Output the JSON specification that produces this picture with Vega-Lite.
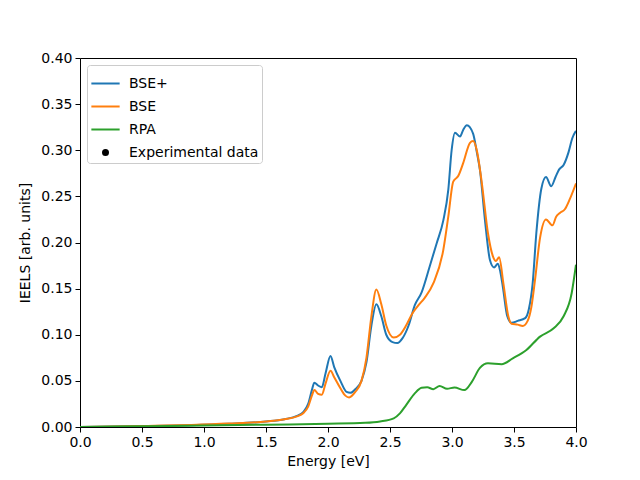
{
  "$schema": "https://vega.github.io/schema/vega-lite/v6.json",
  "width": 496,
  "height": 369,
  "autosize": {"type": "none"},
  "padding": {"left": 80, "top": 58, "right": 64, "bottom": 53},
  "background": "white",
  "config": {
    "font": "DejaVu Sans",
    "view": {"stroke": "black", "strokeWidth": 1},
    "axis": {
      "grid": false,
      "domain": false,
      "tickColor": "black",
      "tickSize": 5,
      "tickWidth": 1,
      "labelFlush": false,
      "labelFont": "DejaVu Sans",
      "labelFontSize": 14,
      "labelColor": "black",
      "labelPadding": 3,
      "titleFont": "DejaVu Sans",
      "titleFontSize": 14,
      "titleFontWeight": "normal",
      "titleColor": "black"
    }
  },
  "data": {
    "values": [
      {"E": 0, "I": 0, "s": "BSE+"},
      {"E": 0.3, "I": 0.0005, "s": "BSE+"},
      {"E": 0.6, "I": 0.0012, "s": "BSE+"},
      {"E": 0.9, "I": 0.002, "s": "BSE+"},
      {"E": 1.2, "I": 0.0035, "s": "BSE+"},
      {"E": 1.5, "I": 0.006, "s": "BSE+"},
      {"E": 1.65, "I": 0.0085, "s": "BSE+"},
      {"E": 1.75, "I": 0.012, "s": "BSE+"},
      {"E": 1.8, "I": 0.016, "s": "BSE+"},
      {"E": 1.84, "I": 0.025, "s": "BSE+"},
      {"E": 1.87, "I": 0.04, "s": "BSE+"},
      {"E": 1.89, "I": 0.048, "s": "BSE+"},
      {"E": 1.92, "I": 0.045, "s": "BSE+"},
      {"E": 1.95, "I": 0.043, "s": "BSE+"},
      {"E": 1.98, "I": 0.058, "s": "BSE+"},
      {"E": 2.02, "I": 0.077, "s": "BSE+"},
      {"E": 2.05, "I": 0.065, "s": "BSE+"},
      {"E": 2.1, "I": 0.05, "s": "BSE+"},
      {"E": 2.15, "I": 0.038, "s": "BSE+"},
      {"E": 2.18, "I": 0.037, "s": "BSE+"},
      {"E": 2.22, "I": 0.041, "s": "BSE+"},
      {"E": 2.27, "I": 0.05, "s": "BSE+"},
      {"E": 2.31, "I": 0.07, "s": "BSE+"},
      {"E": 2.35, "I": 0.11, "s": "BSE+"},
      {"E": 2.39, "I": 0.133, "s": "BSE+"},
      {"E": 2.43, "I": 0.12, "s": "BSE+"},
      {"E": 2.47, "I": 0.1, "s": "BSE+"},
      {"E": 2.52, "I": 0.092, "s": "BSE+"},
      {"E": 2.56, "I": 0.091, "s": "BSE+"},
      {"E": 2.6, "I": 0.096, "s": "BSE+"},
      {"E": 2.65, "I": 0.11, "s": "BSE+"},
      {"E": 2.7, "I": 0.132, "s": "BSE+"},
      {"E": 2.755, "I": 0.146, "s": "BSE+"},
      {"E": 2.82, "I": 0.174, "s": "BSE+"},
      {"E": 2.876, "I": 0.199, "s": "BSE+"},
      {"E": 2.93, "I": 0.224, "s": "BSE+"},
      {"E": 2.97, "I": 0.257, "s": "BSE+"},
      {"E": 2.997, "I": 0.3, "s": "BSE+"},
      {"E": 3.024, "I": 0.319, "s": "BSE+"},
      {"E": 3.065, "I": 0.315, "s": "BSE+"},
      {"E": 3.09, "I": 0.322, "s": "BSE+"},
      {"E": 3.12, "I": 0.327, "s": "BSE+"},
      {"E": 3.17, "I": 0.318, "s": "BSE+"},
      {"E": 3.2, "I": 0.298, "s": "BSE+"},
      {"E": 3.226, "I": 0.278, "s": "BSE+"},
      {"E": 3.266, "I": 0.224, "s": "BSE+"},
      {"E": 3.306, "I": 0.181, "s": "BSE+"},
      {"E": 3.339, "I": 0.173, "s": "BSE+"},
      {"E": 3.37, "I": 0.177, "s": "BSE+"},
      {"E": 3.39, "I": 0.168, "s": "BSE+"},
      {"E": 3.41, "I": 0.152, "s": "BSE+"},
      {"E": 3.446, "I": 0.12, "s": "BSE+"},
      {"E": 3.48, "I": 0.113, "s": "BSE+"},
      {"E": 3.53, "I": 0.115, "s": "BSE+"},
      {"E": 3.59, "I": 0.118, "s": "BSE+"},
      {"E": 3.62, "I": 0.128, "s": "BSE+"},
      {"E": 3.65, "I": 0.155, "s": "BSE+"},
      {"E": 3.68, "I": 0.21, "s": "BSE+"},
      {"E": 3.72, "I": 0.258, "s": "BSE+"},
      {"E": 3.758, "I": 0.271, "s": "BSE+"},
      {"E": 3.8, "I": 0.261, "s": "BSE+"},
      {"E": 3.835, "I": 0.271, "s": "BSE+"},
      {"E": 3.863, "I": 0.279, "s": "BSE+"},
      {"E": 3.9, "I": 0.284, "s": "BSE+"},
      {"E": 3.94, "I": 0.298, "s": "BSE+"},
      {"E": 3.97, "I": 0.313, "s": "BSE+"},
      {"E": 4.0, "I": 0.321, "s": "BSE+"},

      {"E": 0, "I": 0, "s": "BSE"},
      {"E": 0.3, "I": 0.0005, "s": "BSE"},
      {"E": 0.6, "I": 0.0013, "s": "BSE"},
      {"E": 0.9, "I": 0.0022, "s": "BSE"},
      {"E": 1.2, "I": 0.0037, "s": "BSE"},
      {"E": 1.5, "I": 0.006, "s": "BSE"},
      {"E": 1.65, "I": 0.0085, "s": "BSE"},
      {"E": 1.75, "I": 0.0115, "s": "BSE"},
      {"E": 1.8, "I": 0.015, "s": "BSE"},
      {"E": 1.84, "I": 0.022, "s": "BSE"},
      {"E": 1.87, "I": 0.034, "s": "BSE"},
      {"E": 1.89, "I": 0.04, "s": "BSE"},
      {"E": 1.92, "I": 0.036, "s": "BSE"},
      {"E": 1.95, "I": 0.035, "s": "BSE"},
      {"E": 1.98, "I": 0.047, "s": "BSE"},
      {"E": 2.02, "I": 0.061, "s": "BSE"},
      {"E": 2.05, "I": 0.054, "s": "BSE"},
      {"E": 2.1, "I": 0.042, "s": "BSE"},
      {"E": 2.14, "I": 0.034, "s": "BSE"},
      {"E": 2.17, "I": 0.032, "s": "BSE"},
      {"E": 2.22, "I": 0.038, "s": "BSE"},
      {"E": 2.27, "I": 0.05, "s": "BSE"},
      {"E": 2.31, "I": 0.075, "s": "BSE"},
      {"E": 2.35, "I": 0.12, "s": "BSE"},
      {"E": 2.39, "I": 0.149, "s": "BSE"},
      {"E": 2.43, "I": 0.133, "s": "BSE"},
      {"E": 2.47, "I": 0.11, "s": "BSE"},
      {"E": 2.53, "I": 0.097, "s": "BSE"},
      {"E": 2.58, "I": 0.1, "s": "BSE"},
      {"E": 2.63, "I": 0.11, "s": "BSE"},
      {"E": 2.68, "I": 0.123, "s": "BSE"},
      {"E": 2.73, "I": 0.132, "s": "BSE"},
      {"E": 2.78, "I": 0.14, "s": "BSE"},
      {"E": 2.85, "I": 0.156, "s": "BSE"},
      {"E": 2.93, "I": 0.192, "s": "BSE"},
      {"E": 2.97, "I": 0.228, "s": "BSE"},
      {"E": 3.01, "I": 0.266, "s": "BSE"},
      {"E": 3.05, "I": 0.272, "s": "BSE"},
      {"E": 3.09, "I": 0.286, "s": "BSE"},
      {"E": 3.145, "I": 0.308, "s": "BSE"},
      {"E": 3.17, "I": 0.31, "s": "BSE"},
      {"E": 3.2, "I": 0.3, "s": "BSE"},
      {"E": 3.24, "I": 0.265, "s": "BSE"},
      {"E": 3.29, "I": 0.21, "s": "BSE"},
      {"E": 3.33, "I": 0.185, "s": "BSE"},
      {"E": 3.355, "I": 0.18, "s": "BSE"},
      {"E": 3.38, "I": 0.184, "s": "BSE"},
      {"E": 3.414, "I": 0.156, "s": "BSE"},
      {"E": 3.454, "I": 0.12, "s": "BSE"},
      {"E": 3.48, "I": 0.112, "s": "BSE"},
      {"E": 3.53, "I": 0.111, "s": "BSE"},
      {"E": 3.57, "I": 0.1095, "s": "BSE"},
      {"E": 3.61, "I": 0.115, "s": "BSE"},
      {"E": 3.64, "I": 0.13, "s": "BSE"},
      {"E": 3.67, "I": 0.16, "s": "BSE"},
      {"E": 3.71, "I": 0.205, "s": "BSE"},
      {"E": 3.758, "I": 0.225, "s": "BSE"},
      {"E": 3.81, "I": 0.2186, "s": "BSE"},
      {"E": 3.84, "I": 0.228, "s": "BSE"},
      {"E": 3.87, "I": 0.232, "s": "BSE"},
      {"E": 3.91, "I": 0.236, "s": "BSE"},
      {"E": 3.95, "I": 0.247, "s": "BSE"},
      {"E": 4.0, "I": 0.264, "s": "BSE"},

      {"E": 0, "I": 0, "s": "RPA"},
      {"E": 0.5, "I": 0.0008, "s": "RPA"},
      {"E": 1.0, "I": 0.0015, "s": "RPA"},
      {"E": 1.5, "I": 0.0025, "s": "RPA"},
      {"E": 2.0, "I": 0.0035, "s": "RPA"},
      {"E": 2.3, "I": 0.0045, "s": "RPA"},
      {"E": 2.42, "I": 0.006, "s": "RPA"},
      {"E": 2.53, "I": 0.0094, "s": "RPA"},
      {"E": 2.58, "I": 0.0148, "s": "RPA"},
      {"E": 2.63, "I": 0.0238, "s": "RPA"},
      {"E": 2.7, "I": 0.0365, "s": "RPA"},
      {"E": 2.755, "I": 0.0425, "s": "RPA"},
      {"E": 2.8, "I": 0.043, "s": "RPA"},
      {"E": 2.85, "I": 0.041, "s": "RPA"},
      {"E": 2.9, "I": 0.0445, "s": "RPA"},
      {"E": 2.96, "I": 0.0415, "s": "RPA"},
      {"E": 3.02, "I": 0.0428, "s": "RPA"},
      {"E": 3.1, "I": 0.04, "s": "RPA"},
      {"E": 3.16, "I": 0.049, "s": "RPA"},
      {"E": 3.225, "I": 0.064, "s": "RPA"},
      {"E": 3.29, "I": 0.069, "s": "RPA"},
      {"E": 3.4, "I": 0.068, "s": "RPA"},
      {"E": 3.49, "I": 0.0744, "s": "RPA"},
      {"E": 3.6, "I": 0.0835, "s": "RPA"},
      {"E": 3.71, "I": 0.098, "s": "RPA"},
      {"E": 3.82, "I": 0.107, "s": "RPA"},
      {"E": 3.9, "I": 0.12, "s": "RPA"},
      {"E": 3.965, "I": 0.145, "s": "RPA"},
      {"E": 4.0, "I": 0.176, "s": "RPA"}
    ]
  },
  "mark": {"type": "line", "strokeWidth": 2, "interpolate": "monotone", "clip": true},
  "encoding": {
    "x": {
      "field": "E", "type": "quantitative",
      "scale": {"domain": [0, 4], "nice": false, "zero": false},
      "axis": {"values": [0, 0.5, 1, 1.5, 2, 2.5, 3, 3.5, 4], "format": ".1f", "title": "Energy [eV]", "titlePadding": 5}
    },
    "y": {
      "field": "I", "type": "quantitative",
      "scale": {"domain": [0, 0.4], "nice": false},
      "axis": {"values": [0, 0.05, 0.1, 0.15, 0.2, 0.25, 0.3, 0.35, 0.4], "format": ".2f", "title": "IEELS [arb. units]", "titlePadding": 8}
    },
    "color": {
      "field": "s", "type": "nominal",
      "scale": {"domain": ["BSE+", "BSE", "RPA", "Experimental data"], "range": ["#1f77b4", "#ff7f0e", "#2ca02c", "black"]},
      "legend": {
        "title": null,
        "orient": "top-left",
        "offset": 7,
        "padding": 3,
        "fillColor": "rgba(255,255,255,0.8)",
        "strokeColor": "#cccccc",
        "cornerRadius": 3,
        "symbolType": "stroke",
        "symbolSize": 800,
        "symbolStrokeWidth": 2,
        "labelFont": "DejaVu Sans",
        "labelFontSize": 14,
        "labelColor": "black",
        "labelOffset": 8,
        "rowPadding": -2,
        "encode": {
          "symbols": {
            "update": {
              "shape": {"signal": "datum.label === 'Experimental data' ? 'circle' : 'stroke'"},
              "size": {"signal": "datum.label === 'Experimental data' ? 25 : 800"},
              "fill": {"signal": "datum.label === 'Experimental data' ? 'black' : 'transparent'"}
            }
          }
        }
      }
    },
    "order": {"field": "E", "type": "quantitative"}
  }
}
